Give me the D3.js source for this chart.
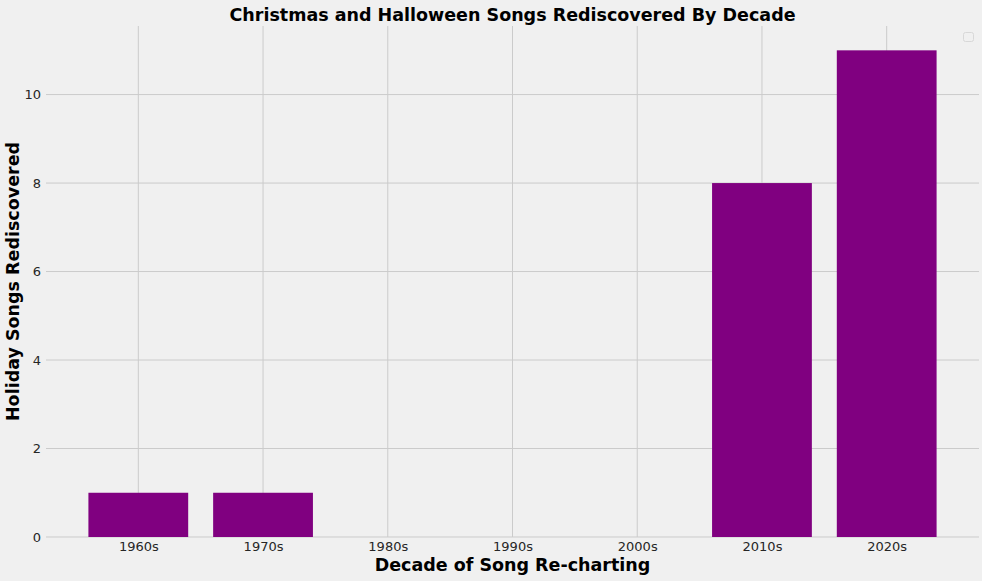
<!DOCTYPE html>
<html>
<head>
<meta charset="utf-8">
<script src="https://cdn.jsdelivr.net/npm/d3@7"></script>
<style>
  body { margin: 0; background: #f0f0f0; }
  svg { display: block; font-family: "DejaVu Sans", sans-serif; }
</style>
</head>
<body>
<div id="chart"></div>
<script>
// data
const decades = ["1960s", "1970s", "1980s", "1990s", "2000s", "2010s", "2020s"];
const songCounts = [1, 1, 0, 0, 0, 8, 11];
const yTicks = [0, 2, 4, 6, 8, 10];

const width = 982, height = 581;
const margin = {top: 26, right: 3, bottom: 44, left: 46};

const svg = d3.select("#chart").append("svg")
  .attr("width", width)
  .attr("height", height);

svg.append("rect")
  .attr("width", width).attr("height", height)
  .attr("fill", "#f0f0f0");

// matplotlib style: bars at integer positions, width 0.8, 5% margins
const x = d3.scaleLinear()
  .domain([-0.74, decades.length - 1 + 0.74])
  .range([margin.left, width - margin.right]);

const y = d3.scaleLinear()
  .domain([0, d3.max(songCounts) * 1.05])
  .range([height - margin.bottom, margin.top]);

// MARK: - grid

const grid = svg.append("g").attr("stroke", "#cbcbcb").attr("stroke-width", 1);

grid.selectAll(".vgrid").data(decades).join("line")
  .attr("x1", (d, i) => x(i)).attr("x2", (d, i) => x(i))
  .attr("y1", y.range()[1]).attr("y2", y.range()[0]);

grid.selectAll(".hgrid").data(yTicks).join("line")
  .attr("x1", x.range()[0]).attr("x2", x.range()[1])
  .attr("y1", d => y(d)).attr("y2", d => y(d));

// MARK: - bars

const barWidth = x(0.8) - x(0);
svg.append("g").selectAll("rect").data(songCounts).join("rect")
  .attr("x", (d, i) => x(i) - barWidth / 2)
  .attr("width", barWidth)
  .attr("y", d => y(d))
  .attr("height", d => y(0) - y(d))
  .attr("fill", "#800080");

// MARK: - axes

const xAxis = d3.axisBottom(x)
  .tickValues(d3.range(decades.length))
  .tickFormat(i => decades[i])
  .tickSize(0)
  .tickPadding(5);

const yAxis = d3.axisLeft(y)
  .tickValues(yTicks)
  .tickSize(0)
  .tickPadding(5);

const gx = svg.append("g")
  .attr("transform", `translate(0,${y(0)})`)
  .call(xAxis);

const gy = svg.append("g")
  .attr("transform", `translate(${margin.left},0)`)
  .call(yAxis);

[gx, gy].forEach(g => {
  g.select(".domain").remove();
  g.selectAll("text")
    .attr("font-family", "DejaVu Sans, sans-serif")
    .attr("font-size", 13)
    .attr("fill", "#262626");
});

// MARK: - labels

svg.append("text")
  .attr("x", (x.range()[0] + x.range()[1]) / 2)
  .attr("y", 21)
  .attr("text-anchor", "middle")
  .attr("font-size", 17.5)
  .attr("font-weight", "bold")
  .attr("fill", "#000")
  .text("Christmas and Halloween Songs Rediscovered By Decade");

svg.append("text")
  .attr("x", (x.range()[0] + x.range()[1]) / 2)
  .attr("y", 571)
  .attr("text-anchor", "middle")
  .attr("font-size", 17.5)
  .attr("font-weight", "bold")
  .attr("fill", "#000")
  .text("Decade of Song Re-charting");

svg.append("text")
  .attr("transform", `translate(19,${(y.range()[0] + y.range()[1]) / 2}) rotate(-90)`)
  .attr("text-anchor", "middle")
  .attr("font-size", 17.5)
  .attr("font-weight", "bold")
  .attr("fill", "#000")
  .text("Holiday Songs Rediscovered");

// empty legend box
svg.append("rect")
  .attr("x", 963.5).attr("y", 32.5)
  .attr("width", 10).attr("height", 9)
  .attr("rx", 2)
  .attr("fill", "#f0f0f0")
  .attr("stroke", "#d8d8d8");
</script>
</body>
</html>
